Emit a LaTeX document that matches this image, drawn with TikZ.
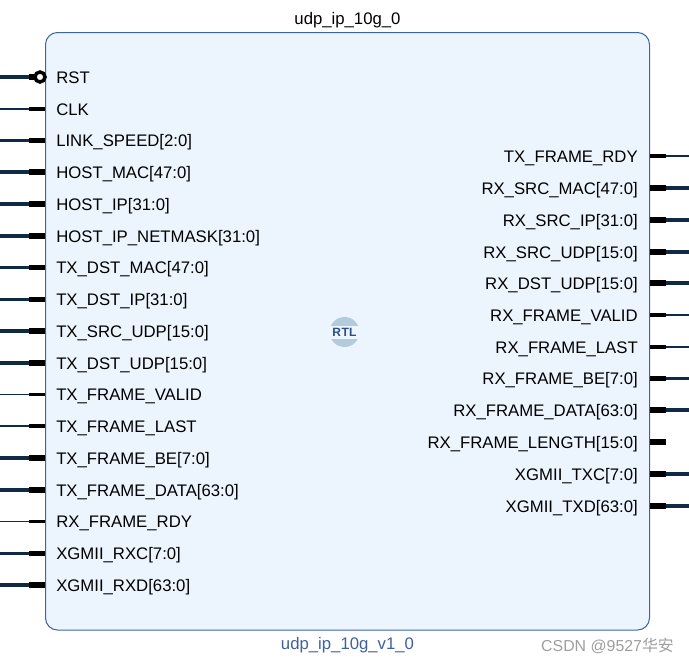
\documentclass[tikz,border=0pt]{standalone}
\usepackage{fontspec}
\setmainfont{Liberation Sans}
\newfontfamily\cjkwm{Noto Sans CJK SC}
\definecolor{boxfill}{HTML}{ECF5FE}
\definecolor{boxline}{HTML}{3E64A8}
\definecolor{wirecol}{HTML}{0F2A45}
\definecolor{iconcol}{HTML}{B4CBDC}
\definecolor{icontext}{HTML}{2C4F80}
\definecolor{botlabel}{HTML}{3F5F9F}
\tikzset{
  x=0.75pt,y=-0.75pt,
  blockbox/.style={draw=boxline,fill=boxfill,line width=0.75pt,rounded corners=9pt},
  pinlabel/.style={font=\fontsize{12.55}{14}\selectfont,text=black,inner sep=0pt},
  stubbus/.style={line width=4.2pt,black},
  stubbit/.style={line width=2.4pt,black},
  wirebus/.style={line width=2.4pt,wirecol},
  wirebit/.style={line width=0.8pt,wirecol},
}
\newcommand{\leftpin}[4]{% id, y, label, kind
  \node[pinlabel,anchor=base west] (L#1) at (56,#2+6) {#3};
  \coordinate (LA#1) at (0,#2);
  \coordinate (LB#1) at (29,#2);
  \coordinate (LC#1) at (45,#2);
  \draw[wire#4] (LA#1) -- (LB#1);
  \draw[stub#4] (LB#1) -- (LC#1);
}
\newcommand{\rightpin}[4]{%
  \node[pinlabel,anchor=base east] (R#1) at (638,#2+6) {#3};
  \coordinate (RA#1) at (650,#2);
  \coordinate (RB#1) at (666,#2);
  \coordinate (RC#1) at (689,#2);
  \draw[stub#4] (RA#1) -- (RB#1);
  \draw[wire#4] (RB#1) -- (RC#1);
}
\begin{document}
\begin{tikzpicture}
\useasboundingbox (0,0) rectangle (689,664);
\draw[blockbox] (45.5,32.5) rectangle (649.5,630);
\node[pinlabel,anchor=base] (title) at (347.5,24) {udp\_ip\_10g\_0};
\node[pinlabel,anchor=base,text=botlabel] (sub) at (347.5,649) {udp\_ip\_10g\_v1\_0};
\node[anchor=base east,inner sep=0pt,text=black!38,font=\fontsize{11.9}{13}\selectfont] (wm) at (674,651) {CSDN @9527{\cjkwm 华安}};
% RTL icon
\fill[iconcol] (344.5,332) circle[radius=15];
\fill[boxfill] (329,325.5) rectangle (360,338.5);
\node[inner sep=0pt,text=icontext,font=\bfseries\fontsize{9}{10}\selectfont] (rtl) at (344.5,332.3) {R\kern0.3pt T\kern0.3pt L};
% left pins
\leftpin{a}{77}{RST}{bus}
\leftpin{b}{109}{CLK}{bit}
\leftpin{c}{140.5}{LINK\_SPEED[2:0]}{bus}
\leftpin{d}{172}{HOST\_MAC[47:0]}{bus}
\leftpin{e}{204}{HOST\_IP[31:0]}{bus}
\leftpin{f}{236}{HOST\_IP\_NETMASK[31:0]}{bus}
\leftpin{g}{267.5}{TX\_DST\_MAC[47:0]}{bus}
\leftpin{h}{299.5}{TX\_DST\_IP[31:0]}{bus}
\leftpin{i}{331}{TX\_SRC\_UDP[15:0]}{bus}
\leftpin{j}{363}{TX\_DST\_UDP[15:0]}{bus}
\leftpin{k}{394.5}{TX\_FRAME\_VALID}{bit}
\leftpin{l}{426}{TX\_FRAME\_LAST}{bit}
\leftpin{m}{458}{TX\_FRAME\_BE[7:0]}{bus}
\leftpin{n}{490}{TX\_FRAME\_DATA[63:0]}{bus}
\leftpin{o}{521.5}{RX\_FRAME\_RDY}{bit}
\leftpin{p}{553.5}{XGMII\_RXC[7:0]}{bus}
\leftpin{q}{585}{XGMII\_RXD[63:0]}{bus}
\draw[line width=2.6pt,black,fill=white] (40,77) circle[radius=5];
% right pins
\rightpin{a}{156}{TX\_FRAME\_RDY}{bit}
\rightpin{b}{188}{RX\_SRC\_MAC[47:0]}{bus}
\rightpin{c}{220}{RX\_SRC\_IP[31:0]}{bus}
\rightpin{d}{252}{RX\_SRC\_UDP[15:0]}{bus}
\rightpin{e}{283}{RX\_DST\_UDP[15:0]}{bus}
\rightpin{f}{315}{RX\_FRAME\_VALID}{bit}
\rightpin{g}{347}{RX\_FRAME\_LAST}{bit}
\rightpin{h}{378.5}{RX\_FRAME\_BE[7:0]}{bus}
\rightpin{i}{410}{RX\_FRAME\_DATA[63:0]}{bus}
\node[pinlabel,anchor=base east] (Rj) at (638,448) {RX\_FRAME\_LENGTH[15:0]};
\coordinate (RAj) at (650,442);
\coordinate (RBj) at (666,442);
\draw[stubbus] (RAj) -- (RBj);
\rightpin{k}{474}{XGMII\_TXC[7:0]}{bus}
\rightpin{l}{506}{XGMII\_TXD[63:0]}{bus}
\end{tikzpicture}
\end{document}
